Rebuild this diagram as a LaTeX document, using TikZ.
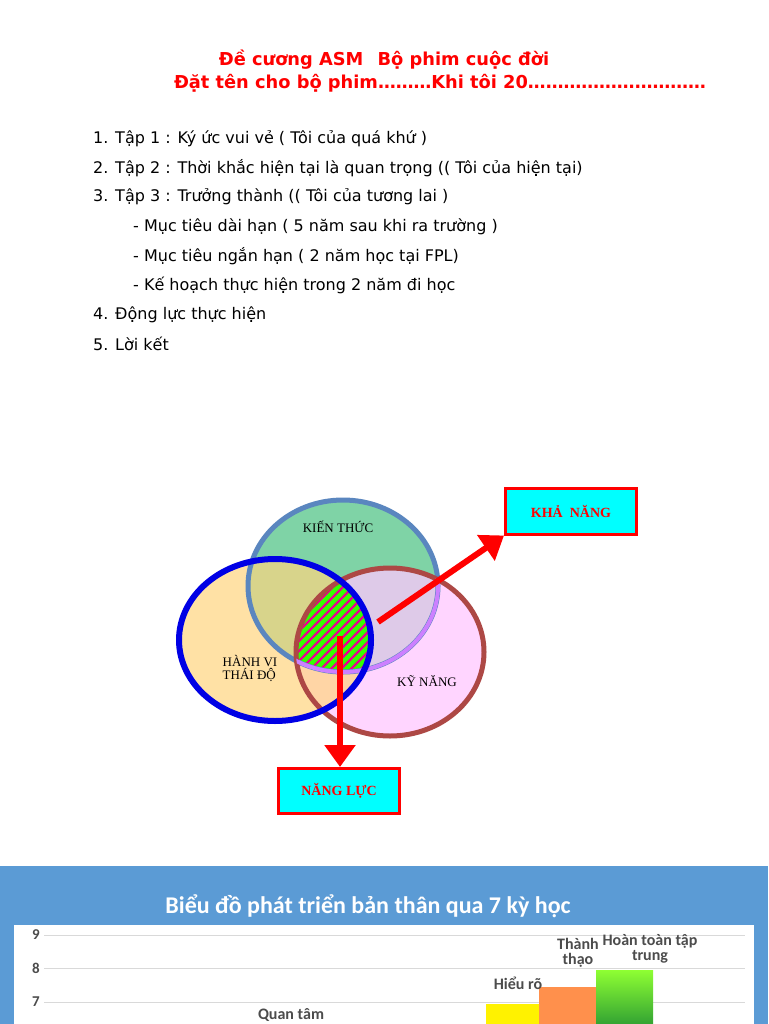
\documentclass[tikz,border=0pt]{standalone}
\usepackage{fontspec}
\setmainfont{DejaVu Sans}
\newfontfamily\serifv{Liberation Serif}
\newfontfamily\chartf{Carlito}
\usetikzlibrary{arrows.meta}
\definecolor{kt}{HTML}{7FD3A6}
\definecolor{ktb}{HTML}{5A86BF}
\definecolor{kn}{HTML}{FFC8FF}
\definecolor{knb}{HTML}{C0504D}
\definecolor{hv}{HTML}{FFD580}
\definecolor{cb}{HTML}{5B9BD5}
\definecolor{grid}{HTML}{D9D9D9}
\definecolor{cy}{HTML}{00FFFF}
\definecolor{rd}{HTML}{FF0000}
\tikzset{
  listitem/.style={anchor=west,font=\fontsize{16}{18}\selectfont,inner sep=0},
  lbl/.style={font=\serifv\fontsize{13}{13}\selectfont,align=left,inner sep=0},
  outbox/.style={draw=rd,line width=3pt,fill=cy,font=\serifv\bfseries\fontsize{14}{14}\selectfont,text=rd,inner sep=0},
  bigarrow/.style={draw=rd,line width=6pt,-{Triangle[length=22pt,width=30pt]}},
  blab/.style={font=\chartf\bfseries\fontsize{16}{15}\selectfont,text=black!70,align=center,inner sep=0},
}
\begin{document}
\begin{tikzpicture}[x=1pt,y=-1pt]
\useasboundingbox (0,0) rectangle (768,1024);
\fill[white] (0,0) rectangle (768,1024);
\node[font=\bfseries\fontsize{17.8}{20}\selectfont,text=rd] (t1) at (384,60) {Đề cương ASM\hspace{0.8em}Bộ phim cuộc đời};
\node[font=\bfseries\fontsize{17.8}{20}\selectfont,text=rd] (t2) at (440,83) {Đặt tên cho bộ phim………Khi tôi 20…………………………};
\node[listitem] (l1) at (93,139) {1. Tập 1 : Ký ức vui vẻ ( Tôi của quá khứ )};
\node[listitem] (l2) at (93,168) {2. Tập 2 : Thời khắc hiện tại là quan trọng (( Tôi của hiện tại)};
\node[listitem] (l3) at (93,197) {3. Tập 3 : Trưởng thành (( Tôi của tương lai )};
\node[listitem] (l4) at (133,227) {- Mục tiêu dài hạn ( 5 năm sau khi ra trường )};
\node[listitem] (l5) at (133,256) {- Mục tiêu ngắn hạn ( 2 năm học tại FPL)};
\node[listitem] (l6) at (133,285) {- Kế hoạch thực hiện trong 2 năm đi học};
\node[listitem] (l7) at (93,315) {4. Động lực thực hiện};
\node[listitem] (l8) at (93,344) {5. Lời kết};
% Venn
\fill[kt] (343,586) ellipse [x radius=95,y radius=86];
\fill[kn,opacity=0.75] (390,652) ellipse [x radius=94,y radius=84];
\fill[hv,opacity=0.7] (275,640) ellipse [x radius=96,y radius=81];
\begin{scope}
\clip (343,586) ellipse [x radius=95,y radius=86];
\clip (390,652) ellipse [x radius=94,y radius=84];
\clip (275,640) ellipse [x radius=96,y radius=81];
\fill[green!80!yellow] (250,540) rectangle (420,720);
\foreach \i in {0,10,...,300}{\draw[magenta,line width=2.2pt] (200+\i,720) -- (380+\i,540);}
\end{scope}
\draw[ktb,line width=5pt] (343,586) ellipse [x radius=95,y radius=86];
\draw[knb!90!black,line width=5pt] (390,652) ellipse [x radius=94,y radius=84];
\begin{scope}
\clip (390,652) ellipse [x radius=94,y radius=84];
\draw[orange!90!black,line width=4pt] (275,640) ellipse [x radius=96,y radius=81];
\draw[blue!40!magenta!50!white,line width=4pt] (343,586) ellipse [x radius=95,y radius=86];
\end{scope}
\draw[blue!90!black,line width=6pt] (275,640) ellipse [x radius=96,y radius=81];
\node[lbl] (kt) at (338,527) {KIẾN THỨC};
\node[lbl] (hvl) at (250,668) {HÀNH VI\\THÁI ĐỘ};
\node[lbl] (knl) at (427,681) {KỸ NĂNG};
\node[outbox,minimum width=131pt,minimum height=46pt] (kn2) at (571,511) {KHẢ\ \ NĂNG};
\node[outbox,minimum width=121pt,minimum height=45pt] (nl) at (339,791) {NĂNG LỰC};
\coordinate (a1) at (378,622);
\coordinate (a2) at (340,636);
\draw[bigarrow] (a1) -- (kn2.south west);
\draw[bigarrow] (a2) -- (a2 |- nl.north);
% Chart
\fill[cb] (0,866) rectangle (768,1024);
\node[font=\chartf\bfseries\fontsize{24}{24}\selectfont,text=white] (ct) at (368,906) {Biểu đồ phát triển bản thân qua 7 kỳ học};
\fill[white] (14,925) rectangle (754,1024);
\foreach \y/\v in {935/9,968/8,1002/7}{
  \draw[grid,line width=0.8pt] (44,\y) -- (745,\y);
  \node[font=\chartf\bfseries\fontsize{15}{15}\selectfont,text=black!70,inner sep=0] at (36,\y) {\v};
}
\fill[yellow] (486,1004) rectangle (539,1024);
\fill[orange!75!red!70] (539,987) rectangle (596,1024);
\shade[top color=green!55!yellow!80!white,bottom color=green!55!black!80] (596,970) rectangle (653,1024);
\node[blab] (b1) at (518,983) {Hiểu rõ};
\node[blab] (b2) at (578,953) {Thành\\thạo};
\node[blab] (b3) at (650,949) {Hoàn toàn tập\\trung};
\node[blab] (b4) at (291,1015) {Quan tâm};
\end{tikzpicture}
\end{document}
